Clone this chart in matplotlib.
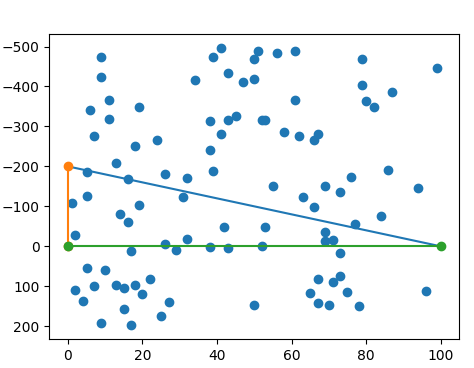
import numpy as np
import matplotlib.pyplot as plt

# scatter points (x, y)
xs = [9, 9, 11, 6, 19, 11, 7, 18, 24, 13, 5, 16, 26, 32, 5, 31, 34, 39, 41, 43,
      47, 38, 43, 45, 41, 38, 39,
      50, 51, 56, 61, 50, 61, 52, 53, 58, 62, 67, 66, 79, 79, 80, 82, 87, 99,
      55, 63, 69, 73, 76, 86, 94,
      66, 53, 77, 84, 69, 69, 71, 52, 73, 67, 73, 71, 65, 75, 96, 67, 70, 78, 50,
      1, 19, 14, 16, 2, 42, 32, 26, 29, 38, 43, 17, 5, 10, 22, 2, 7, 13, 15, 18,
      20, 4, 27, 15, 25, 9, 17]
ys = [-474, -423, -367, -342, -348, -319, -276, -250, -267, -208, -187, -169,
      -180, -170, -127, -123, -417, -473, -497, -433, -411, -313, -316, -325,
      -280, -241, -188,
      -468, -488, -483, -488, -419, -367, -316, -315, -287, -277, -282, -266,
      -468, -403, -363, -348, -385, -447, -151, -123, -151, -137, -173, -192,
      -146,
      -99, -48, -56, -75, -35, -14, -17, -2, 17, 81, 74, 90, 118, 115, 113, 141,
      146, 149, 147,
      -108, -103, -82, -60, -28, -49, -18, -7, 10, 2, 4, 12, 55, 60, 81, 109,
      100, 98, 104, 97, 120, 138, 139, 158, 174, 192, 198]

# segments
diag_x = [0, 100]
diag_y = [-200, 0]
vert_x = [0, 0]
vert_y = [0, -200]
horiz_x = [0, 100]
horiz_y = [0, 0]


def main():
    fig = plt.figure(figsize=(4.74, 3.68), dpi=100)
    ax = fig.add_axes([0.104, 0.078, 0.865, 0.83])

    ax.scatter(xs, ys)
    ax.plot(diag_x, diag_y, '-')
    ax.plot(vert_x, vert_y, 'o-')
    ax.plot(horiz_x, horiz_y, 'o-')

    ax.invert_yaxis()

    fig.savefig('out.png', dpi=100)


if __name__ == '__main__':
    main()
